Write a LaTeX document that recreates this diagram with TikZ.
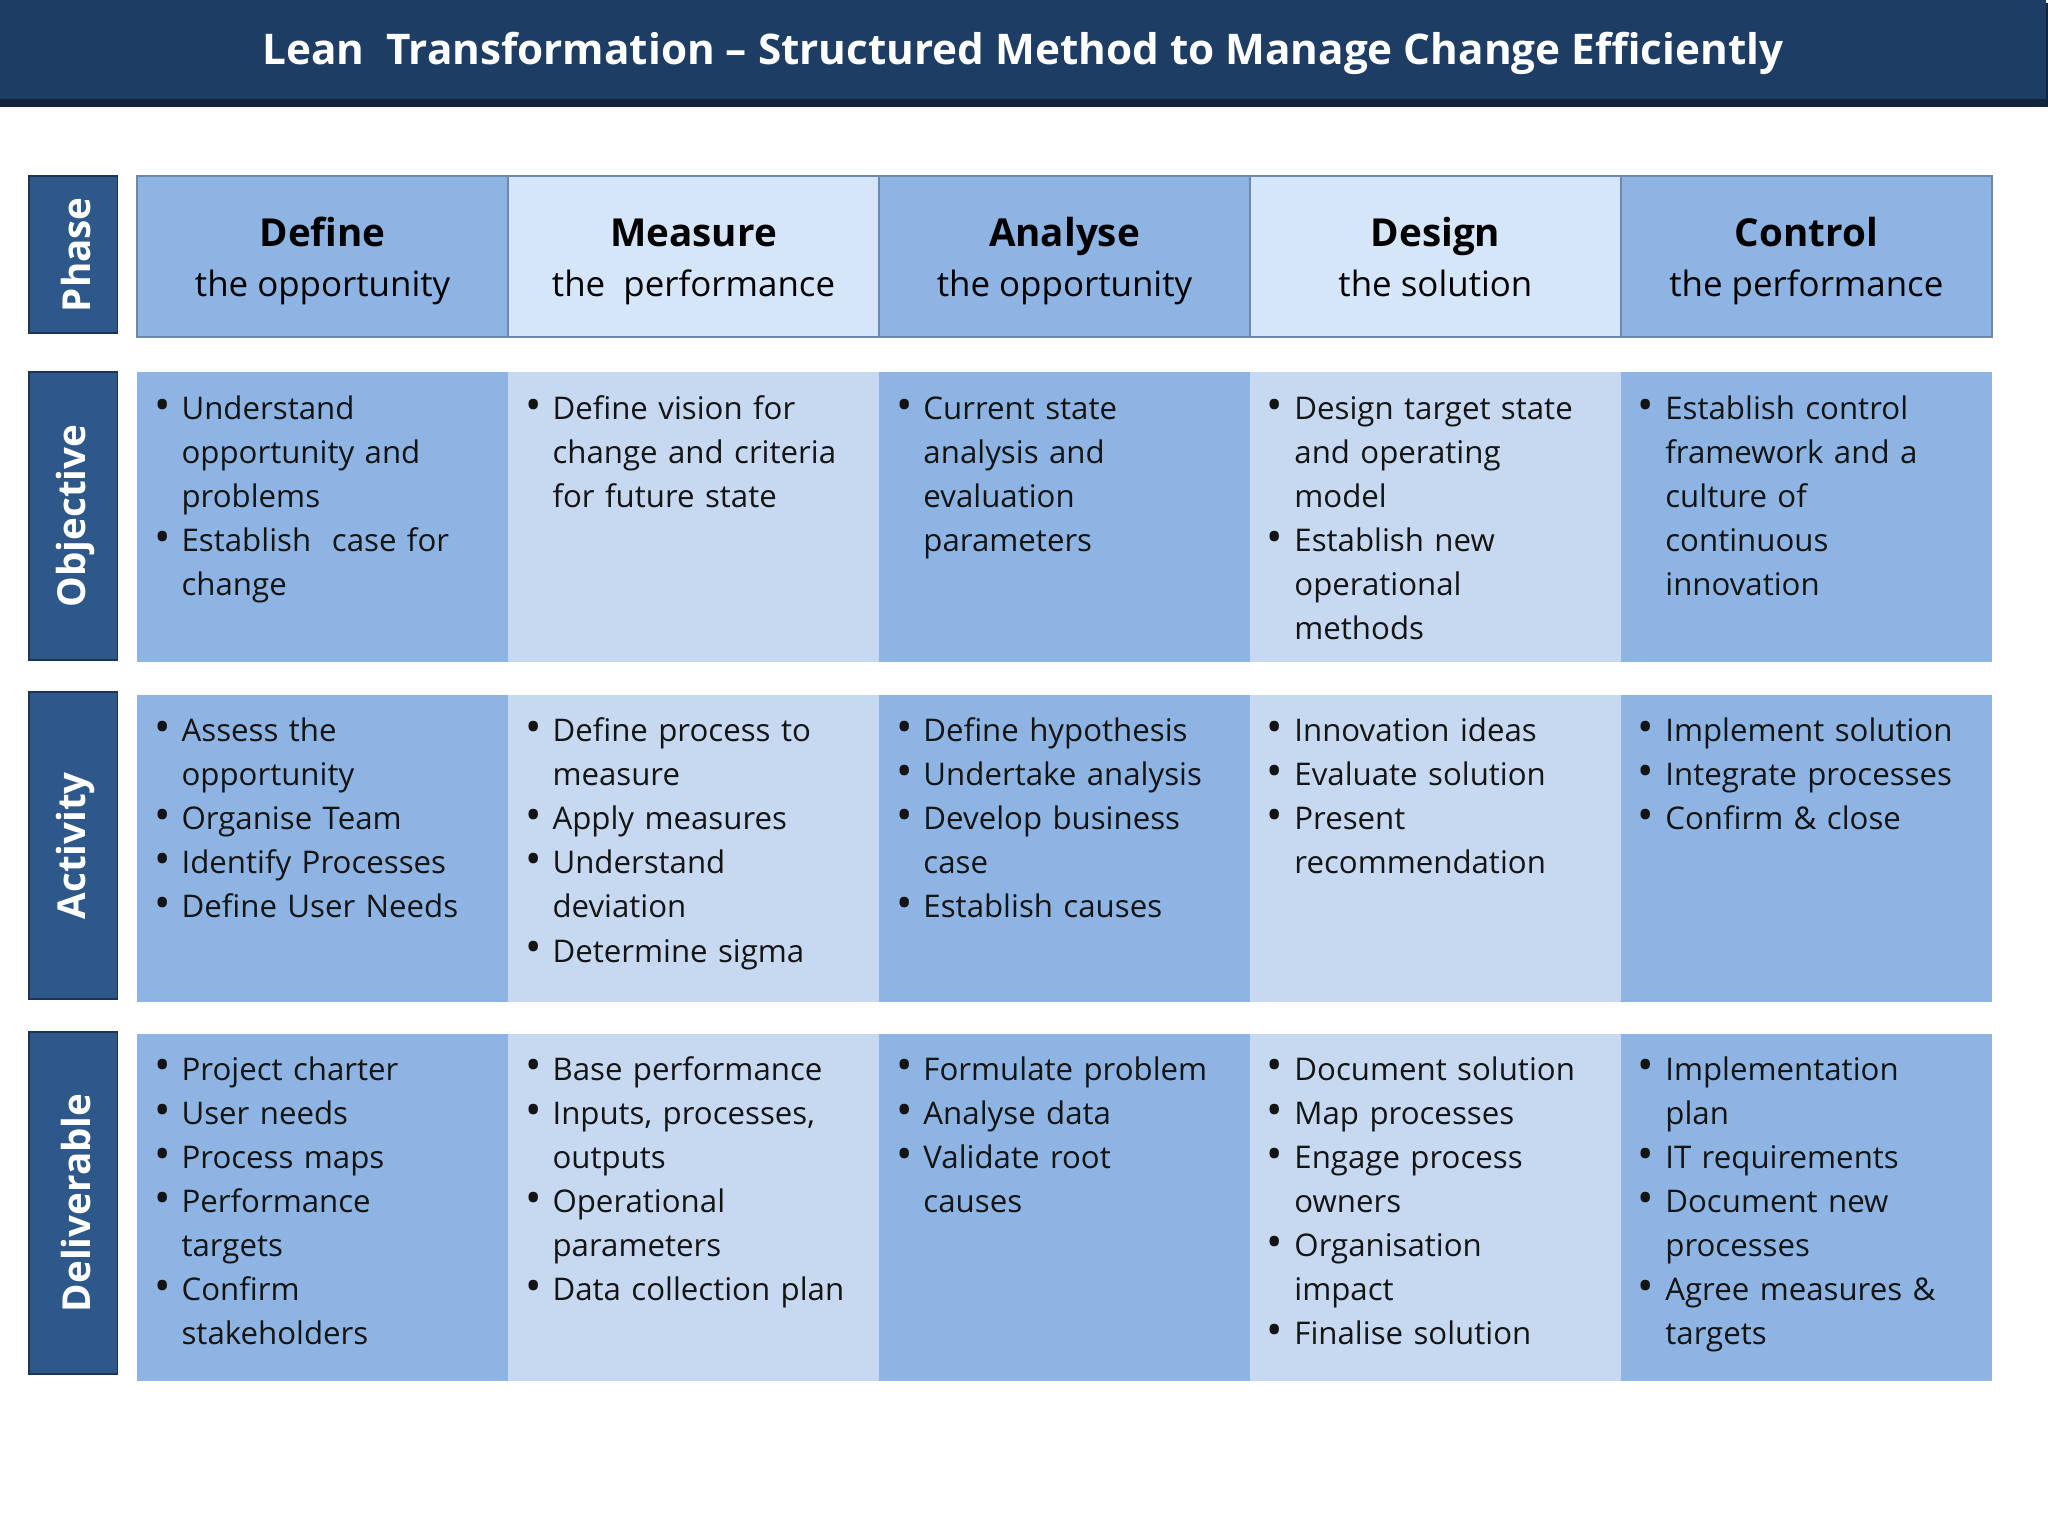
\documentclass[tikz,border=0pt]{standalone}
\usepackage{fontspec}
\setmainfont{Open Sans}
\definecolor{titlebg}{RGB}{30,61,100}
\definecolor{rowlab}{RGB}{46,88,138}
\definecolor{dark}{RGB}{142,180,227}
\definecolor{light}{RGB}{198,217,241}
\definecolor{hdark}{RGB}{141,180,226}
\definecolor{hlight}{RGB}{214,230,249}
\definecolor{txt}{RGB}{20,20,20}
\newcommand{\bodyfont}{\fontsize{34}{48}\selectfont}
\newcommand{\mybul}{\raisebox{-1pt}{\scalebox{1.4}{\textbullet}}}
\newenvironment{blist}{\begin{list}{\mybul}{\leftmargin=34pt\labelsep=12pt\itemsep=0pt\topsep=0pt\parsep=0pt\partopsep=0pt}}{\end{list}}
\tikzset{
  rowbox/.style={fill=rowlab,draw=rowlab!60!black,line width=2pt},
  rowtext/.style={rotate=90,text=white,font=\bfseries\fontsize{42}{48}\selectfont},
  hbox/.style={draw=rowlab!70,line width=2pt},
  htext/.style={align=center,text=black,font=\fontsize{38}{55}\selectfont},
  ctext/.style={anchor=north west,inner sep=0pt,text width=352pt,align=left,text=txt,font=\bodyfont}
}
\begin{document}
\begin{tikzpicture}[x=0.05cm,y=-0.05cm]
\useasboundingbox (0,0) rectangle (1568,1176);
\fill[white] (0,0) rectangle (1568,1176);
% title
\fill[titlebg!60!black] (0,2) rectangle (1568,82);
\node[fill=titlebg,minimum width=1566*0.05cm,minimum height=76*0.05cm,anchor=north west,inner sep=0pt] (title) at (0,0) {};
\node[text=white,font=\bfseries\fontsize{46}{56}\selectfont] at ([yshift=-4pt]title.center) {Lean\ \ Transformation -- Structured Method to Manage Change Efficiently};
% row labels
\foreach \n/\t/\b/\lab in {ph/135/255/Phase,ob/285/505/Objective,ac/530/765/Activity,de/790/1052/Deliverable}{
  \draw[rowbox] (22,\t) rectangle (90,\b);
  \node[rowtext] (\n) at (58,{(\t+\b)/2}) {\lab};
}
% headers
\foreach \i/\c/\a/\b in {0/hdark/Define/the opportunity,1/hlight/Measure/the\ \ performance,2/hdark/Analyse/the opportunity,3/hlight/Design/the solution,4/hdark/Control/the performance}{
  \draw[hbox,fill=\c] ({105+284*\i},135) rectangle ({105+284*(\i+1)},258);
  \node[htext] (h\i) at ({105+284*\i+142},200) {\textbf{\fontsize{42}{55}\selectfont \a\strut}\\\b\strut};
}
% body cells
\foreach \i/\c in {0/dark,1/light,2/dark,3/light,4/dark}{
  \fill[\c] ({105+284*\i},285) rectangle ({105+284*(\i+1)},507);
  \fill[\c] ({105+284*\i},532) rectangle ({105+284*(\i+1)},767);
  \fill[\c] ({105+284*\i},792) rectangle ({105+284*(\i+1)},1057);
}
% objective
\node[ctext] (o0) at (115,287) {\begin{blist}\item Understand opportunity and problems\item Establish\ \ case for change\end{blist}};
\node[ctext] (o1) at (399,287) {\begin{blist}\item Define vision for change and criteria for future state\end{blist}};
\node[ctext] (o2) at (683,287) {\begin{blist}\item Current state analysis and evaluation parameters\end{blist}};
\node[ctext] (o3) at (967,287) {\begin{blist}\item Design target state and operating model\item Establish new operational methods\end{blist}};
\node[ctext] (o4) at (1251,287) {\begin{blist}\item Establish control framework and a culture of continuous innovation\end{blist}};
% activity
\node[ctext] (a0) at (115,534) {\begin{blist}\item Assess the opportunity\item Organise Team\item Identify Processes\item Define User Needs\end{blist}};
\node[ctext] (a1) at (399,534) {\begin{blist}\item Define process to measure\item Apply measures\item Understand deviation\item Determine sigma\end{blist}};
\node[ctext] (a2) at (683,534) {\begin{blist}\item Define hypothesis\item Undertake analysis\item Develop business case\item Establish causes\end{blist}};
\node[ctext] (a3) at (967,534) {\begin{blist}\item Innovation ideas\item Evaluate solution\item Present recommendation\end{blist}};
\node[ctext] (a4) at (1251,534) {\begin{blist}\item Implement solution\item Integrate processes\item Confirm \& close\end{blist}};
% deliverable
\node[ctext] (d0) at (115,793) {\begin{blist}\item Project charter\item User needs\item Process maps\item Performance targets\item Confirm stakeholders\end{blist}};
\node[ctext] (d1) at (399,793) {\begin{blist}\item Base performance\item Inputs, processes, outputs\item Operational parameters\item Data collection plan\end{blist}};
\node[ctext] (d2) at (683,793) {\begin{blist}\item Formulate problem\item Analyse data\item Validate root causes\end{blist}};
\node[ctext] (d3) at (967,793) {\begin{blist}\item Document solution\item Map processes\item Engage process owners\item Organisation impact\item Finalise solution\end{blist}};
\node[ctext] (d4) at (1251,793) {\begin{blist}\item Implementation plan\item IT requirements\item Document new processes\item Agree measures \& targets\end{blist}};
\end{tikzpicture}
\end{document}
